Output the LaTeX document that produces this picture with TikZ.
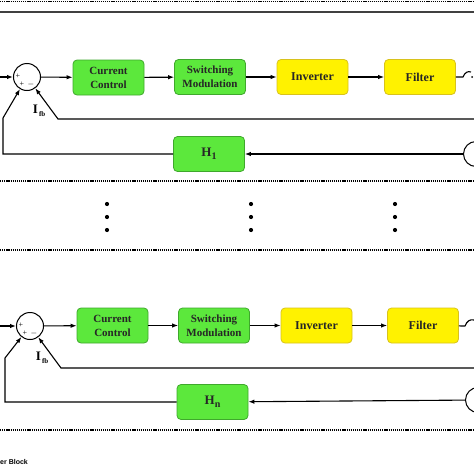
\documentclass[tikz,border=0pt]{standalone}
\usepackage{fontspec}
\setmainfont{Liberation Serif}
\newfontfamily\sansf{Liberation Sans}
\usetikzlibrary{arrows.meta}
\definecolor{gfill}{HTML}{5CE83C}
\definecolor{gdraw}{HTML}{3FA82C}
\definecolor{yfill}{HTML}{FFF200}
\definecolor{ydraw}{HTML}{D8C21C}
\tikzset{
  boxbase/.style={rounded corners=4pt, line width=0.8pt, minimum width=71pt, minimum height=35pt, inner sep=0pt, align=center, text=black!85},
  gbox/.style={boxbase, draw=gdraw, fill=gfill, font=\bfseries\fontsize{11}{14}\selectfont},
  ybox/.style={boxbase, draw=ydraw, fill=yfill, font=\bfseries\fontsize{12}{14}\selectfont},
  hbox/.style={boxbase, draw=gdraw, fill=gfill, font=\bfseries\fontsize{13}{14}\selectfont},
  sumc/.style={circle, draw, line width=1pt, minimum size=27pt, inner sep=0pt},
  srcc/.style={circle, draw, line width=1pt, minimum size=25pt, inner sep=0pt},
  conn/.style={line width=1.1pt},
  arr/.style={conn, -{Latex[length=6pt,width=4.5pt]}},
  dotline/.style={line width=1.6pt, dash pattern=on 1.2pt off 0.9pt},
  sign/.style={inner sep=0pt, font=\fontsize{8}{8}\selectfont},
  fblabel/.style={inner sep=0pt, font=\bfseries\fontsize{13}{13}\selectfont},
  vdot/.style={circle, fill, inner sep=0pt, minimum size=4.2pt},
}
\begin{document}
\begin{tikzpicture}[x=1pt,y=-1pt]
\useasboundingbox (0,0) rectangle (474,474);
% top separators
\coordinate (t0l) at (0,1.5); \coordinate (t0r) at (474,1.5);
\draw[dotline] (t0l) -- (t0r);
\coordinate (t1l) at (0,12); \coordinate (t1r) at (474,12);
\draw[line width=1.2pt, black!75] (t1l) -- (t1r);

% ===== Top section =====
\node[sumc] (s1) at (27,77) {};
\node[sign] (p1a) at (18,76) {+};
\node[sign] (p1b) at (22,84) {+};
\node[sign] (m1) at (31,84) {$-$};
\coordinate (in1) at (0,77);
\draw[arr] (in1) -- (s1);
\node[gbox] (cc1) at (108.5,77.5) {Current\\Control};
\node[gbox] (sm1) at (210,77) {Switching\\Modulation};
\node[ybox] (inv1) at (312.5,77) {Inverter};
\node[ybox] (fl1) at (420,77) {Filter};
\draw[arr] (s1) -- (cc1);
\draw[arr] (cc1) -- (sm1);
\draw[arr] (sm1) -- (inv1);
\draw[arr] (inv1) -- (fl1);
\coordinate (o1) at (463,77);
\coordinate (o1e) at (471,72);
\draw[conn] (fl1) -- (o1) .. controls (465,72) and (468,71) .. (o1e);
\node[circle, fill, inner sep=0pt, minimum size=2pt] (o1d) at (472,77) {};
% I_fb feedback
\coordinate (f1r) at (474,119);
\coordinate (f1k) at (58,119);
\draw[arr] (f1r) -- (f1k) -- (s1);
\node[fblabel] (lfb1) at (39,111) {I\raisebox{-2.5pt}{\fontsize{7}{7}\selectfont\,fb}};
% H1 feedback
\node[hbox] (h1) at (209,154) {H\raisebox{-3pt}{\fontsize{10}{10}\selectfont 1}};
\node[srcc] (r1) at (476,154) {};
\draw[arr] (r1) -- (h1);
\coordinate (k1b) at (3,154);
\coordinate (k1t) at (3,118);
\draw[arr] (h1) -- (k1b) -- (k1t) -- (s1);

% separators and dots
\coordinate (d1l) at (0,181); \coordinate (d1r) at (474,181);
\draw[dotline] (d1l) -- (d1r);
\foreach \x/\n in {107/a,251/b,395/c}{
  \node[vdot] (v\n1) at (\x,204) {};
  \node[vdot] (v\n2) at (\x,217) {};
  \node[vdot] (v\n3) at (\x,230) {};
}
\coordinate (d2l) at (0,250); \coordinate (d2r) at (474,250);
\draw[dotline] (d2l) -- (d2r);

% ===== Bottom section =====
\node[sumc] (s2) at (30,326) {};
\node[sign] (p2a) at (21,325) {+};
\node[sign] (p2b) at (25,333) {+};
\node[sign] (m2) at (34,333) {$-$};
\coordinate (in2) at (0,326);
\draw[arr] (in2) -- (s2);
\node[gbox] (cc2) at (112.5,325.5) {Current\\Control};
\node[gbox] (sm2) at (214,325.5) {Switching\\Modulation};
\node[ybox] (inv2) at (316.5,325.5) {Inverter};
\node[ybox] (fl2) at (423,325.5) {Filter};
\draw[arr] (s2) -- (cc2);
\draw[arr] (cc2) -- (sm2);
\draw[arr] (sm2) -- (inv2);
\draw[arr] (inv2) -- (fl2);
\coordinate (o2) at (465,326);
\coordinate (o2e) at (474,320);
\draw[conn] (fl2) -- (o2) .. controls (467,321) and (470,319) .. (o2e);
% I_fb feedback
\coordinate (f2r) at (474,368);
\coordinate (f2k) at (61,368);
\draw[arr] (f2r) -- (f2k) -- (s2);
\node[fblabel] (lfb2) at (42,358) {I\raisebox{-2.5pt}{\fontsize{7}{7}\selectfont\,fb}};
% Hn feedback
\node[hbox] (h2) at (212.5,402) {H\raisebox{-3pt}{\fontsize{10}{10}\selectfont n}};
\node[srcc] (r2) at (478,400) {};
\draw[arr] (r2) -- (h2);
\coordinate (k2b) at (5,402);
\coordinate (k2t) at (5,358);
\draw[arr] (h2) -- (k2b) -- (k2t) -- (s2);

\coordinate (d3l) at (0,430); \coordinate (d3r) at (474,430);
\draw[dotline] (d3l) -- (d3r);
\node[anchor=west, inner sep=0pt, font=\sansf\bfseries\fontsize{7}{8}\selectfont] (leg) at (0,462) {er Block};
\end{tikzpicture}
\end{document}
